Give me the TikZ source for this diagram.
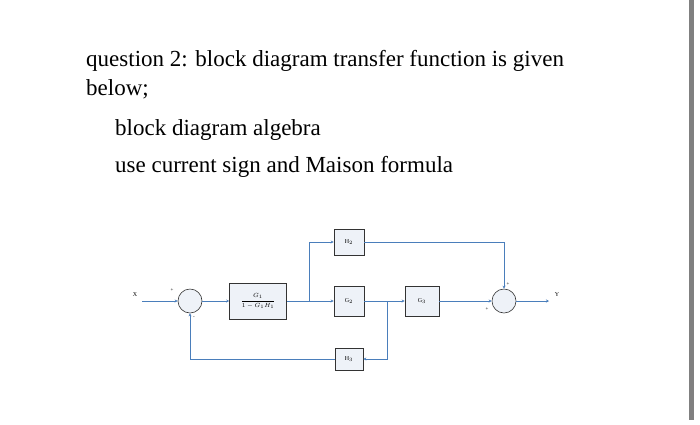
\documentclass[tikz,border=0pt]{standalone}
\usepackage{fontspec}
\setmainfont{Liberation Serif}
\usetikzlibrary{arrows.meta}
\definecolor{ln}{HTML}{4A7EBB}
\definecolor{bx}{HTML}{EEF2F8}
\begin{document}
\begin{tikzpicture}[x=1pt,y=-1pt,
  blk/.style={draw=black!80,fill=bx,line width=0.6pt,inner sep=0pt,font=\fontsize{6}{7}\selectfont},
  sumc/.style={circle,draw=black!80,fill=bx,line width=0.6pt,minimum size=24pt,inner sep=0pt},
  sig/.style={draw=ln,line width=0.7pt,-{Stealth[length=3pt,width=3pt]}},
  wire/.style={draw=ln,line width=0.7pt},
  sgn/.style={font=\fontsize{5}{5}\selectfont,inner sep=0pt},
  ttl/.style={anchor=base west,inner sep=0pt,font=\fontsize{23}{28}\selectfont}]
\useasboundingbox (0,0) rectangle (700,424);
\fill[white] (0,0) rectangle (700,424);
\fill[black!50] (689,0) rectangle (694,420);
\node[ttl] (t1) at (86,66) {question 2: block diagram transfer function is given};
\node[ttl] (t2) at (86,95) {below;};
\node[ttl] (t3) at (115,135) {block diagram algebra};
\node[ttl] (t4) at (115,172) {use current sign and Maison formula};
\node[font=\fontsize{6}{7}\selectfont] (X) at (135,295) {X};
\coordinate (xs) at (142,301);
\node[sumc] (s1) at (190,301) {};
\node[blk,minimum width=57pt,minimum height=36pt] (g1) at (258,301) {$\displaystyle\frac{G_1}{1-G_1H_1}$};
\node[blk,minimum width=30pt,minimum height=30pt] (g2) at (349,301) {G$_2$};
\node[blk,minimum width=30pt,minimum height=26pt] (h2) at (349,242) {H$_2$};
\node[blk,minimum width=34pt,minimum height=30pt] (g3) at (422,301) {G$_3$};
\node[blk,minimum width=28pt,minimum height=22pt] (h3) at (349,359) {H$_3$};
\node[sumc] (s2) at (504,301) {};
\node[font=\fontsize{6}{7}\selectfont] (Y) at (557,295) {Y};
\coordinate (ye) at (549,301);
\coordinate (b1) at (309,301);
\coordinate (b2) at (387,301);
\draw[sig] (xs) -- (s1);
\draw[sig] (s1) -- (g1);
\draw[wire] (g1) -- (b1);
\draw[sig] (b1) -- (g2);
\draw[sig] (b1) |- (h2);
\draw[wire] (g2) -- (b2);
\draw[sig] (b2) -- (g3);
\draw[sig] (b2) |- (h3);
\draw[sig] (h3) -| (s1);
\draw[sig] (h2) -| (s2);
\draw[sig] (g3) -- (s2);
\draw[sig] (s2) -- (ye);
\node[sgn] (p1) at (172,290) {+};
\node[sgn] (m1) at (194,318) {-};
\node[sgn] (p2) at (508,284) {+};
\node[sgn] (p3) at (487,309) {+};
\end{tikzpicture}
\end{document}
